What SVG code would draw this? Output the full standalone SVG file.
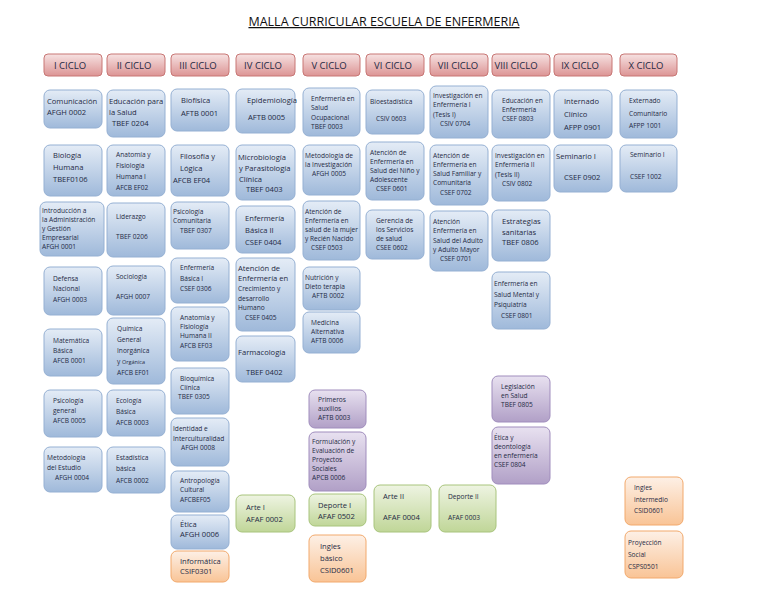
<svg xmlns="http://www.w3.org/2000/svg" width="768" height="594" viewBox="0 0 768 594">
<defs>
<linearGradient id="gb" x1="0" y1="0" x2="0" y2="1"><stop offset="0" stop-color="#e4ecf6"/><stop offset="1" stop-color="#9fb9da"/></linearGradient>
<linearGradient id="gp" x1="0" y1="0" x2="0" y2="1"><stop offset="0" stop-color="#e8e1f0"/><stop offset="1" stop-color="#b1a0c7"/></linearGradient>
<linearGradient id="gg" x1="0" y1="0" x2="0" y2="1"><stop offset="0" stop-color="#eef4e2"/><stop offset="1" stop-color="#c0d698"/></linearGradient>
<linearGradient id="go" x1="0" y1="0" x2="0" y2="1"><stop offset="0" stop-color="#fdf0e6"/><stop offset="1" stop-color="#f9c496"/></linearGradient>
<linearGradient id="gr" x1="0" y1="0" x2="0" y2="1"><stop offset="0" stop-color="#f6e2e2"/><stop offset="1" stop-color="#dc9494"/></linearGradient>
</defs>
<style>
rect{stroke-width:1}
.b{fill:url(#gb);stroke:#95b0d3}
.p{fill:url(#gp);stroke:#a08dbd}
.g{fill:url(#gg);stroke:#a8c47c}
.o{fill:url(#go);stroke:#f2a96c}
.r{fill:url(#gr);stroke:#c87775}
text{font-family:"Open Sans","Liberation Sans",sans-serif;font-size:7.6px;fill:#1f2a44}
.h{font-size:9.5px;text-anchor:middle}
.s{font-size:6.6px}
.t{font-size:12.5px;text-anchor:middle;fill:#111;text-decoration:underline}
</style>
<text class="t" x="384" y="26">MALLA CURRICULAR ESCUELA DE ENFERMERIA</text>
<g id="headers">
<rect class="r" x="44" y="54" width="58" height="22" rx="4"/><text class="h" x="70" y="68.5">I CICLO</text>
<rect class="r" x="107" y="54" width="58" height="22" rx="4"/><text class="h" x="134" y="68.5">II CICLO</text>
<rect class="r" x="171" y="54" width="58" height="22" rx="4"/><text class="h" x="198" y="68.5">III CICLO</text>
<rect class="r" x="236" y="54" width="59" height="22" rx="4"/><text class="h" x="263" y="68.5">IV CICLO</text>
<rect class="r" x="303" y="54" width="57" height="22" rx="4"/><text class="h" x="329" y="68.5">V CICLO</text>
<rect class="r" x="366" y="54" width="58" height="22" rx="4"/><text class="h" x="393" y="68.5">VI CICLO</text>
<rect class="r" x="430" y="54" width="58" height="22" rx="4"/><text class="h" x="458" y="68.5">VII CICLO</text>
<rect class="r" x="492" y="54" width="58" height="22" rx="4"/><text class="h" x="516" y="68.5">VIII  CICLO</text>
<rect class="r" x="554" y="54" width="58" height="22" rx="4"/><text class="h" x="580" y="68.5">IX CICLO</text>
<rect class="r" x="620" y="54" width="57" height="22" rx="4"/><text class="h" x="646" y="68.5">X CICLO</text>
</g>
<g id="connectors"/>
<!-- Col I -->
<g id="n1"><rect class="b" x="44" y="90" width="58" height="38" rx="6"/><text x="47" y="104"><tspan>Comunicación</tspan><tspan x="47" dy="11">AFGH 0002</tspan></text></g>
<g id="n2"><rect class="b" x="44" y="145" width="58" height="51" rx="6"/><text x="53" y="158"><tspan>Biología</tspan><tspan x="53" dy="12">Humana</tspan><tspan x="53" dy="12">TBEF0106</tspan></text></g>
<g id="n3"><rect class="b" x="40" y="202" width="64" height="54" rx="6"/><text class="s" x="42" y="213"><tspan>Introducción  a</tspan><tspan x="42" dy="9">la Administración</tspan><tspan x="42" dy="9">y  Gestión</tspan><tspan x="42" dy="9">Empresarial</tspan><tspan x="42" dy="9">AFGH 0001</tspan></text></g>
<g id="n4"><rect class="b" x="44" y="267" width="58" height="48" rx="6"/><text class="s" x="53" y="281"><tspan>Defensa</tspan><tspan x="53" dy="10">Nacional</tspan><tspan x="53" dy="11">AFGH 0003</tspan></text></g>
<g id="n5"><rect class="b" x="44" y="329" width="58" height="47" rx="6"/><text class="s" x="53" y="343"><tspan>Matemática</tspan><tspan x="53" dy="10">Básica</tspan><tspan x="53" dy="10">AFCB 0001</tspan></text></g>
<g id="n6"><rect class="b" x="44" y="390" width="58" height="47" rx="6"/><text class="s" x="53" y="403"><tspan>Psicología</tspan><tspan x="53" dy="10">general</tspan><tspan x="53" dy="10">AFCB 0005</tspan></text></g>
<g id="n7"><rect class="b" x="44" y="447" width="58" height="45" rx="6"/><text class="s" x="47" y="460"><tspan>Metodología</tspan><tspan x="47" dy="10">del Estudio</tspan><tspan x="55" dy="10">AFGH  0004</tspan></text></g>
<!-- Col II -->
<g id="n8"><rect class="b" x="107" y="90" width="58" height="47" rx="6"/><text x="109" y="104"><tspan>Educación para</tspan><tspan x="109" dy="11">la Salud</tspan><tspan x="112" dy="11">TBEF 0204</tspan></text></g>
<g id="n9"><rect class="b" x="107" y="145" width="58" height="51" rx="6"/><text class="s" x="116" y="157"><tspan>Anatomía y</tspan><tspan x="116" dy="11">Fisiología</tspan><tspan x="116" dy="11">Humana I</tspan><tspan x="116" dy="11">AFCB EF02</tspan></text></g>
<g id="n10"><rect class="b" x="107" y="203" width="58" height="54" rx="6"/><text class="s" x="116" y="219"><tspan>Liderazgo</tspan><tspan x="116" dy="20">TBEF 0206</tspan></text></g>
<g id="n11"><rect class="b" x="107" y="266" width="58" height="49" rx="6"/><text class="s" x="116" y="279"><tspan>Sociología</tspan><tspan x="116" dy="20">AFGH  0007</tspan></text></g>
<g id="n12"><rect class="b" x="107" y="318" width="58" height="66" rx="6"/><text class="s" x="117" y="331"><tspan>Química</tspan><tspan x="117" dy="11">General</tspan><tspan x="117" dy="11">Inorgánica</tspan><tspan x="117" dy="11">y <tspan style="font-size:5.5px">Orgánica</tspan></tspan><tspan x="117" dy="11">AFCB EF01</tspan></text></g>
<g id="n13"><rect class="b" x="107" y="390" width="58" height="46" rx="6"/><text class="s" x="116" y="403"><tspan>Ecología</tspan><tspan x="116" dy="11">Básica</tspan><tspan x="116" dy="11">AFCB 0003</tspan></text></g>
<g id="n14"><rect class="b" x="107" y="447" width="58" height="46" rx="6"/><text class="s" x="116" y="460"><tspan>Estadística</tspan><tspan x="116" dy="11">básica</tspan><tspan x="116" dy="12">AFCB 0002</tspan></text></g>
<!-- Col III -->
<g id="n15"><rect class="b" x="171" y="89" width="58" height="42" rx="6"/><text x="181" y="103"><tspan>Biofísica</tspan><tspan x="181" dy="13">AFTB 0001</tspan></text></g>
<g id="n16"><rect class="b" x="171" y="145" width="58" height="51" rx="6"/><text x="180" y="159"><tspan>Filosofía y</tspan><tspan x="180" dy="12">Lógica</tspan><tspan x="173" dy="12">AFCB  EF04</tspan></text></g>
<g id="n17"><rect class="b" x="171" y="202" width="58" height="47" rx="6"/><text class="s" x="173" y="214"><tspan>Psicología</tspan><tspan x="173" dy="9">Comunitaria</tspan><tspan x="180" dy="10">TBEF  0307</tspan></text></g>
<g id="n18"><rect class="b" x="171" y="258" width="58" height="45" rx="6"/><text class="s" x="180" y="270"><tspan>Enfermería</tspan><tspan x="180" dy="11">Básica I</tspan><tspan x="180" dy="10">CSEF 0306</tspan></text></g>
<g id="n19"><rect class="b" x="171" y="307" width="58" height="54" rx="6"/><text class="s" x="180" y="320"><tspan>Anatomía y</tspan><tspan x="180" dy="9">Fisiología</tspan><tspan x="180" dy="9">Humana II</tspan><tspan x="180" dy="10">AFCB EF03</tspan></text></g>
<g id="n20"><rect class="b" x="171" y="368" width="58" height="46" rx="6"/><text class="s" x="180" y="381"><tspan>Bioquímica</tspan><tspan x="180" dy="9">Clínica</tspan><tspan x="178" dy="9">TBEF 0305</tspan></text></g>
<g id="n21"><rect class="b" x="171" y="418" width="58" height="48" rx="6"/><text class="s" x="173" y="431"><tspan>Identidad e</tspan><tspan x="173" dy="10">Interculturalidad</tspan><tspan x="181" dy="9">AFGH 0008</tspan></text></g>
<g id="n22"><rect class="b" x="171" y="471" width="58" height="41" rx="6"/><text class="s" x="180" y="483"><tspan>Antropología</tspan><tspan x="180" dy="9">Cultural</tspan><tspan x="180" dy="10">AFCBEF05</tspan></text></g>
<g id="n23"><rect class="b" x="171" y="515" width="58" height="34" rx="6"/><text x="180" y="527"><tspan>Ética</tspan><tspan x="180" dy="10">AFGH 0006</tspan></text></g>
<g id="n24"><rect class="o" x="171" y="551" width="58" height="31" rx="6"/><text x="180" y="564"><tspan>Informática</tspan><tspan x="180" dy="10">CSIF0301</tspan></text></g>
<!-- Col IV -->
<g id="n25"><rect class="b" x="236" y="89" width="59" height="44" rx="6"/><text x="247" y="103"><tspan>Epidemiología</tspan><tspan x="248" dy="17">AFTB 0005</tspan></text></g>
<g id="n26"><rect class="b" x="236" y="145" width="59" height="55" rx="6"/><text x="238" y="160"><tspan>Microbiología</tspan><tspan x="239" dy="11">y Parasitología</tspan><tspan x="239" dy="11">Clínica</tspan><tspan x="246" dy="10">TBEF 0403</tspan></text></g>
<g id="n27"><rect class="b" x="236" y="206" width="59" height="47" rx="6"/><text x="245" y="221"><tspan>Enfermería</tspan><tspan x="245" dy="12">Básica II</tspan><tspan x="245" dy="12">CSEF 0404</tspan></text></g>
<g id="n28"><rect class="b" x="236" y="258" width="59" height="73" rx="6"/><text x="238" y="271"><tspan>Atención de</tspan><tspan x="238" dy="10">Enfermería en</tspan><tspan class="s" x="238" dy="10">Crecimiento y</tspan><tspan class="s" x="238" dy="10">desarrollo</tspan><tspan class="s" x="238" dy="9">Humano</tspan><tspan class="s" x="245" dy="10">CSEF 0405</tspan></text></g>
<g id="n29"><rect class="b" x="236" y="336" width="59" height="46" rx="6"/><text x="238" y="355"><tspan>Farmacología</tspan><tspan x="246" dy="20">TBEF 0402</tspan></text></g>
<g id="n30"><rect class="g" x="236" y="495" width="59" height="37" rx="6"/><text x="246" y="510"><tspan>Arte I</tspan><tspan x="246" dy="12">AFAF 0002</tspan></text></g>
<!-- Col V -->
<g id="n31"><rect class="b" x="303" y="88" width="57" height="48" rx="6"/><text class="s" x="311" y="101"><tspan>Enfermería en</tspan><tspan x="311" dy="9">Salud</tspan><tspan x="311" dy="10">Ocupacional</tspan><tspan x="311" dy="9">TBEF 0003</tspan></text></g>
<g id="n32"><rect class="b" x="303" y="145" width="57" height="50" rx="6"/><text class="s" x="305" y="158"><tspan>Metodología de</tspan><tspan x="305" dy="9">la Investigación</tspan><tspan x="312" dy="9">AFGH 0005</tspan></text></g>
<g id="n33"><rect class="b" x="303" y="201" width="57" height="59" rx="6"/><text class="s" x="305" y="214"><tspan>Atención de</tspan><tspan x="305" dy="9">Enfermería en</tspan><tspan x="305" dy="9">salud de la mujer</tspan><tspan x="305" dy="9">y Recién Nacido</tspan><tspan x="311" dy="9">CSEF 0503</tspan></text></g>
<g id="n34"><rect class="b" x="303" y="267" width="57" height="43" rx="6"/><text class="s" x="305" y="280"><tspan>Nutrición y</tspan><tspan x="305" dy="9">Dieto terapia</tspan><tspan x="312" dy="9">AFTB 0002</tspan></text></g>
<g id="n35"><rect class="b" x="303" y="312" width="57" height="41" rx="6"/><text class="s" x="311" y="325"><tspan>Medicina</tspan><tspan x="311" dy="9">Alternativa</tspan><tspan x="311" dy="9">AFTB 0006</tspan></text></g>
<g id="n36"><rect class="p" x="309" y="390" width="57" height="38" rx="6"/><text class="s" x="318" y="402"><tspan>Primeros</tspan><tspan x="318" dy="9">auxilios</tspan><tspan x="318" dy="9">AFTB 0003</tspan></text></g>
<g id="n37"><rect class="p" x="309" y="432" width="57" height="59" rx="6"/><text class="s" x="312" y="444"><tspan>Formulación y</tspan><tspan x="312" dy="9">Evaluación  de</tspan><tspan x="312" dy="9">Proyectos</tspan><tspan x="312" dy="9">Sociales</tspan><tspan x="312" dy="9">APCB 0006</tspan></text></g>
<g id="n38"><rect class="g" x="309" y="494" width="57" height="32" rx="6"/><text x="318" y="508"><tspan>Deporte I</tspan><tspan x="318" dy="11">AFAF 0502</tspan></text></g>
<g id="n39"><rect class="o" x="309" y="535" width="57" height="47" rx="6"/><text x="320" y="549"><tspan>Ingles</tspan><tspan x="320" dy="12">básico</tspan><tspan x="320" dy="12">CSID0601</tspan></text></g>
<!-- Col VI -->
<g id="n40"><rect class="b" x="366" y="90" width="58" height="44" rx="6"/><text class="s" x="370" y="104"><tspan>Bioestadística</tspan><tspan x="376" dy="17">CSIV 0603</tspan></text></g>
<g id="n41"><rect class="b" x="366" y="142" width="58" height="58" rx="6"/><text class="s" x="370" y="155"><tspan>Atención de</tspan><tspan x="370" dy="9">Enfermería en</tspan><tspan x="370" dy="9">Salud del Niño y</tspan><tspan x="370" dy="9">Adolescente</tspan><tspan x="376" dy="9">CSEF 0601</tspan></text></g>
<g id="n42"><rect class="b" x="366" y="210" width="58" height="49" rx="6"/><text class="s" x="376" y="223"><tspan>Gerencia de</tspan><tspan x="376" dy="9">los Servicios</tspan><tspan x="376" dy="9">de salud</tspan><tspan x="376" dy="9">CSEE 0602</tspan></text></g>
<g id="n43"><rect class="g" x="374" y="485" width="57" height="47" rx="6"/><text x="383" y="499"><tspan>Arte II</tspan><tspan x="383" dy="21">AFAF 0004</tspan></text></g>
<!-- Col VII -->
<g id="n44"><rect class="b" x="430" y="86" width="58" height="52" rx="6"/><text class="s" x="433" y="98"><tspan>Investigación en</tspan><tspan x="433" dy="9">Enfermería I</tspan><tspan x="433" dy="10">(Tesis I)</tspan><tspan x="440" dy="9">CSIV 0704</tspan></text></g>
<g id="n45"><rect class="b" x="430" y="145" width="58" height="60" rx="6"/><text class="s" x="433" y="158"><tspan>Atención  de</tspan><tspan x="433" dy="9">Enfermería  en</tspan><tspan x="433" dy="9">Salud Familiar y</tspan><tspan x="433" dy="9">Comunitaria</tspan><tspan x="440" dy="10">CSEF 0702</tspan></text></g>
<g id="n46"><rect class="b" x="430" y="211" width="58" height="60" rx="6"/><text class="s" x="433" y="224"><tspan>Atención</tspan><tspan x="433" dy="9">Enfermería  en</tspan><tspan x="433" dy="10">Salud del Adulto</tspan><tspan x="433" dy="9">y Adulto Mayor</tspan><tspan x="440" dy="9">CSEF 0701</tspan></text></g>
<g id="n47"><rect class="g" x="439" y="485" width="57" height="47" rx="6"/><text class="s" x="448" y="499"><tspan>Deporte II</tspan><tspan x="448" dy="21">AFAF 0003</tspan></text></g>
<!-- Col VIII -->
<g id="n48"><rect class="b" x="492" y="90" width="58" height="48" rx="6"/><text class="s" x="502" y="103"><tspan>Educación en</tspan><tspan x="502" dy="9">Enfermería</tspan><tspan x="502" dy="9">CSEF 0803</tspan></text></g>
<g id="n49"><rect class="b" x="492" y="145" width="58" height="56" rx="6"/><text class="s" x="495" y="158"><tspan>Investigación en</tspan><tspan x="495" dy="9">Enfermería II</tspan><tspan x="495" dy="10">(Tesis II)</tspan><tspan x="502" dy="9">CSIV 0802</tspan></text></g>
<g id="n50"><rect class="b" x="492" y="210" width="58" height="51" rx="6"/><text x="502" y="224"><tspan>Estrategias</tspan><tspan x="502" dy="11">sanitarias</tspan><tspan x="502" dy="10">TBEF 0806</tspan></text></g>
<g id="n51"><rect class="b" x="492" y="272" width="58" height="57" rx="6"/><text class="s" x="494" y="286"><tspan>Enfermería en</tspan><tspan x="494" dy="11">Salud Mental y</tspan><tspan x="494" dy="10">Psiquiatría</tspan><tspan x="501" dy="11">CSEF 0801</tspan></text></g>
<g id="n52"><rect class="p" x="492" y="376" width="58" height="46" rx="6"/><text class="s" x="501" y="389"><tspan>Legislación</tspan><tspan x="501" dy="9">en Salud</tspan><tspan x="501" dy="9">TBEF 0805</tspan></text></g>
<g id="n53"><rect class="p" x="492" y="427" width="58" height="57" rx="6"/><text class="s" x="494" y="440"><tspan>Ética y</tspan><tspan x="494" dy="9">deontología</tspan><tspan x="494" dy="9">en enfermería</tspan><tspan x="494" dy="9">CSEF 0804</tspan></text></g>
<!-- Col IX -->
<g id="n54"><rect class="b" x="554" y="90" width="58" height="48" rx="6"/><text x="564" y="104"><tspan>Internado</tspan><tspan x="564" dy="13">Clínico</tspan><tspan x="564" dy="13">AFPP 0901</tspan></text></g>
<g id="n55"><rect class="b" x="554" y="145" width="58" height="47" rx="6"/><text x="556" y="159"><tspan>Seminario I</tspan><tspan x="564" dy="21">CSEF 0902</tspan></text></g>
<!-- Col X -->
<g id="n56"><rect class="b" x="620" y="90" width="57" height="48" rx="6"/><text class="s" x="629" y="103"><tspan>Externado</tspan><tspan x="629" dy="13">Comunitario</tspan><tspan x="629" dy="12">AFPP 1001</tspan></text></g>
<g id="n57"><rect class="b" x="620" y="145" width="57" height="47" rx="6"/><text class="s" x="630" y="157"><tspan>Seminario I</tspan><tspan x="630" dy="22">CSEF 1002</tspan></text></g>
<g id="n58"><rect class="o" x="625" y="477" width="58" height="48" rx="6"/><text class="s" x="634" y="490"><tspan>Ingles</tspan><tspan x="634" dy="12">intermedio</tspan><tspan x="634" dy="11">CSID0601</tspan></text></g>
<g id="n59"><rect class="o" x="625" y="531" width="58" height="47" rx="6"/><text class="s" x="628" y="545"><tspan>Proyección</tspan><tspan x="628" dy="12">Social</tspan><tspan x="628" dy="12">CSPS0501</tspan></text></g>
</svg>
